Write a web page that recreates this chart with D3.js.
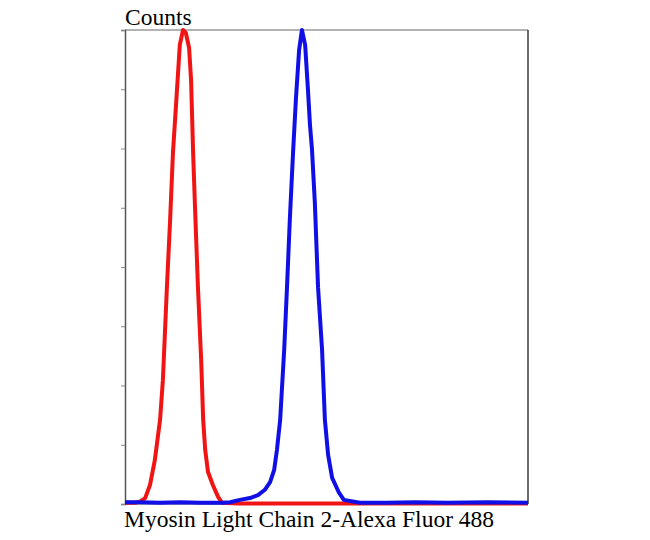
<!DOCTYPE html>
<html>
<head>
<meta charset="utf-8">
<script src="https://cdn.jsdelivr.net/npm/d3@7"></script>
<style>
  html, body { margin: 0; padding: 0; background: #ffffff; }
  svg { display: block; }
</style>
</head>
<body>
<svg id="chart" width="650" height="540"></svg>
<script>
// Channel (x) positions and counts (y)
const redX = [0, 25, 37, 50, 62, 74, 87, 94, 104, 112, 119, 129, 136, 144, 151, 159, 164, 169, 174, 181, 189, 194, 199, 206, 218, 231, 241, 280, 330, 400, 500, 600, 700, 800, 900, 1000];
const redY = [0.02, 0.02, 0.04, 0.1, 0.32, 0.74, 1.42, 2.09, 3.66, 4.8, 5.93, 6.99, 7.75, 8.0, 7.95, 7.7, 7.15, 5.93, 4.96, 3.66, 2.43, 1.42, 0.91, 0.54, 0.32, 0.12, 0.02, 0.01, 0.01, 0.01, 0.01, 0.01, 0.01, 0.01, 0.01, 0.01];

const blueX = [0, 37, 87, 136, 186, 241, 261, 285, 310, 330, 347, 360, 370, 377, 385, 395, 402, 409, 417, 424, 432, 439, 447, 454, 459, 464, 471, 479, 489, 496, 504, 514, 531, 543, 583, 650, 720, 800, 900, 1000];
const blueY = [0.03, 0.03, 0.02, 0.03, 0.02, 0.02, 0.03, 0.07, 0.1, 0.15, 0.24, 0.37, 0.57, 0.91, 1.42, 2.6, 3.66, 4.8, 5.93, 6.82, 7.66, 8.0, 7.75, 6.99, 6.4, 5.98, 5.1, 3.66, 2.6, 1.42, 0.83, 0.44, 0.19, 0.07, 0.02, 0.02, 0.03, 0.02, 0.03, 0.02];

const yTicks = [0, 1, 2, 3, 4, 5, 6, 7, 8];
const yLabel = "Counts";
const xLabel = "Myosin Light Chain 2-Alexa Fluor 488";

const svg = d3.select("#chart");
const pLeft = 125, pRight = 528, pTop = 30, pBottom = 504;

const x = d3.scaleLinear().domain([0, 1000]).range([pLeft, pRight]);
const y = d3.scaleLinear().domain([0, 8]).range([pBottom, pTop]);

// frame
svg.append("line").attr("x1", pLeft).attr("x2", pRight).attr("y1", pTop).attr("y2", pTop)
  .attr("stroke", "#9a9a9a").attr("stroke-width", 1.5);
svg.append("line").attr("x1", pRight).attr("x2", pRight).attr("y1", pTop).attr("y2", pBottom)
  .attr("stroke", "#3a3a3a").attr("stroke-width", 1.5);
svg.append("line").attr("x1", pLeft).attr("x2", pRight).attr("y1", pBottom).attr("y2", pBottom)
  .attr("stroke", "#555").attr("stroke-width", 1);

// left axis with small unlabeled ticks
const yAxis = d3.axisLeft(y).tickValues(yTicks).tickSize(4).tickFormat("");
const gy = svg.append("g").attr("transform", `translate(${pLeft},0)`).call(yAxis);
gy.select(".domain").attr("stroke", "#555").attr("stroke-width", 1.5);
gy.selectAll(".tick line").attr("stroke", "#888");

const line = d3.line().x(d => x(d[0])).y(d => y(d[1]));

svg.append("path")
  .datum(redX.map((v, i) => [v, redY[i]]))
  .attr("d", line)
  .attr("fill", "none")
  .attr("stroke", "#f01414")
  .attr("stroke-width", 4)
  .attr("stroke-linejoin", "round");

svg.append("path")
  .datum(blueX.map((v, i) => [v, blueY[i]]))
  .attr("d", line)
  .attr("fill", "none")
  .attr("stroke", "#1010e6")
  .attr("stroke-width", 4)
  .attr("stroke-linejoin", "round");

svg.append("text")
  .attr("x", 125).attr("y", 25)
  .attr("font-family", "'Liberation Serif', 'Times New Roman', serif")
  .attr("font-size", 23.5)
  .attr("fill", "#000")
  .text(yLabel);

svg.append("text")
  .attr("x", 124).attr("y", 527)
  .attr("font-family", "'Liberation Serif', 'Times New Roman', serif")
  .attr("font-size", 23.5)
  .attr("fill", "#000")
  .text(xLabel);
</script>
</body>
</html>
